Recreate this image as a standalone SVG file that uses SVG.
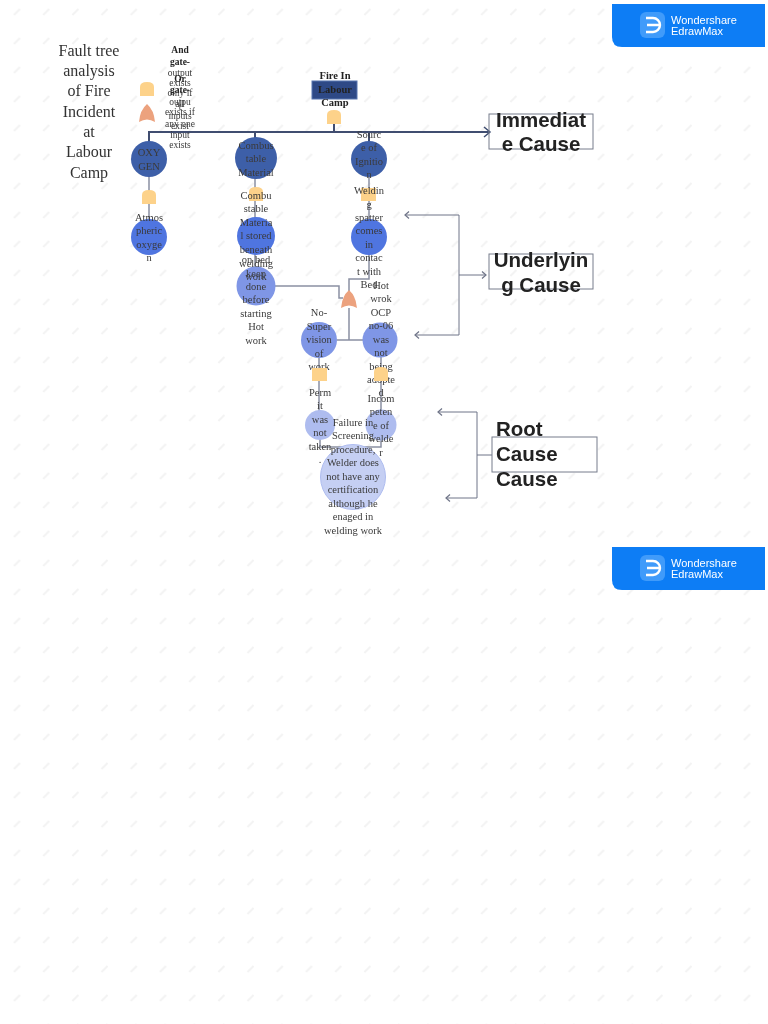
<svg xmlns="http://www.w3.org/2000/svg" width="768" height="1024" viewBox="0 0 768 1024">
<style>
.t{font-family:"Liberation Serif",serif;font-size:10.5px;fill:#3a3a3a;text-anchor:middle}
.s{font-size:9.5px}
.b{font-weight:bold;fill:#222}
.h{font-family:"Liberation Serif",serif;font-size:16px;fill:#333;text-anchor:middle}
.c{font-family:"Liberation Sans",sans-serif;font-size:20.5px;font-weight:bold;fill:#222;text-anchor:middle}
.r{font-family:"Liberation Sans",sans-serif;font-size:20.5px;font-weight:bold;fill:#222}
.l{fill:none;stroke:#8b90a3;stroke-width:1.5}
.m{fill:none;stroke:#3f4d70;stroke-width:2}
.a{fill:none;stroke:#6f7488;stroke-width:1}
.box{fill:none;stroke:#777d8c;stroke-width:1}
.and{fill:#fdd28a}.or{fill:#eca27e}
.n1{fill:#3e5fa8}.n2{fill:#4f74e0}.n3{fill:#7f96e6}.n4{fill:#aebcef}.n5{fill:#c5cff3;stroke:#aebcef}
.w{font-family:"Liberation Sans",sans-serif;font-size:11px;fill:#fff}
</style>
<defs>
<filter id="soft" x="0" y="0" width="100%" height="100%"><feGaussianBlur stdDeviation="0.4"/></filter>
<pattern id="wm" width="29.2" height="29" patternUnits="userSpaceOnUse">
<path d="M14 15l6-6" stroke="#f3f3f3" stroke-width="2" fill="none"/>
</pattern>
<g id="badge">
<path d="M612 0H765V43H622Q612 43 612 33Z" fill="#0d7df5"/>
<rect x="640" y="8" width="25" height="26" rx="6" fill="#3f9bfa"/>
<path d="M646 14h7a7 7 0 0 1 0 14h-7M647 21h12" fill="none" stroke="#fff" stroke-width="2.400"/>
<text class="w" x="671" y="20">Wondershare</text>
<text class="w" x="671" y="31">EdrawMax</text>
</g>
<marker id="f" markerUnits="userSpaceOnUse" markerWidth="8" markerHeight="10" refX="6" refY="5" orient="auto"><path d="M2 1.500L6 5L2 8.500" fill="none" stroke="#6f7488" stroke-width="1.200"/></marker>
<path id="ag" d="M-7 7V-2Q-7 -7 0 -7Q7 -7 7 -2V7Z"/>
<path id="og" d="M-8 9Q-7 -3 0 -9Q7 -3 8 9Q0 4 -8 9Z"/>
</defs>
<rect width="768" height="1024" fill="#fff"/>
<rect width="768" height="1024" fill="url(#wm)"/>
<g filter="url(#soft)">
<use href="#badge" y="4"/>
<use href="#badge" y="547"/>

<g id="connectors">
<path class="m" d="M149 156V132H489"/>
<path class="m" d="M334 132V118"/>
<path class="m" d="M255 132V140M369 132V142"/>
<path d="M484 127L490 132L484 137" fill="none" stroke="#3f4d70" stroke-width="1.500"/>
<path class="l" d="M149 176V237M255 178V270M369 176V279H349V292M275 286H339V298H343M349 308V340M337 340H364M319 357V412M381 357V410M320 438V447H353V453M381 438V447H353"/>
<path class="a" d="M459 215V335M477 412V498M477 455H492"/>
<path class="a" d="M459 215H405" marker-end="url(#f)"/>
<path class="a" d="M459 335H415" marker-end="url(#f)"/>
<path class="a" d="M459 275H486" marker-end="url(#f)"/>
<path class="a" d="M477 412H438" marker-end="url(#f)"/>
<path class="a" d="M477 498H446" marker-end="url(#f)"/>
</g>

<g id="title"><text class="h" x="89" y="56">Fault tree</text><text class="h" x="89" y="76">analysis</text><text class="h" x="89" y="96">of Fire</text><text class="h" x="89" y="117">Incident</text><text class="h" x="89" y="137">at</text><text class="h" x="89" y="157">Labour</text><text class="h" x="89" y="178">Camp</text></g>

<g id="legend-and"><use href="#ag" class="and" x="147" y="89"/>
<text class="t b s" x="180" y="53">And</text><text class="t b s" x="180" y="65">gate-</text>
<text class="t s" x="180" y="76">output</text><text class="t s" x="180" y="86">exists</text><text class="t s" x="180" y="96">only if</text><text class="t s" x="180" y="107">all</text><text class="t s" x="180" y="119">inputs</text><text class="t s" x="180" y="129">exist</text></g>
<g id="legend-or"><use href="#og" class="or" x="147" y="113"/>
<text class="t b s" x="180" y="82">Or</text><text class="t b s" x="180" y="93">gate-</text>
<text class="t s" x="180" y="105">outpu</text><text class="t s" x="180" y="110">t</text><text class="t s" x="180" y="115">exists if</text><text class="t s" x="180" y="127">any one</text><text class="t s" x="180" y="138">input</text><text class="t s" x="180" y="148">exists</text></g>

<g id="top"><rect x="312" y="81" width="45" height="18" fill="#2f4a86" stroke="#5874b0"/>
<text class="t b" x="335" y="79">Fire In</text><text class="t b" x="335" y="93">Labour</text><text class="t b" x="335" y="106">Camp</text></g>
<g id="gate-top"><use href="#ag" class="and" x="334" y="117"/></g>

<g id="n-oxygen"><circle class="n1" cx="149" cy="159" r="18"/><text class="t" x="149" y="156">OXY</text><text class="t" x="149" y="170">GEN</text></g>
<g id="gate-a"><use href="#ag" class="and" x="149" y="197"/></g>
<g id="n-atmos"><circle class="n2" cx="149" cy="237" r="18"/><text class="t" x="149" y="221">Atmos</text><text class="t" x="149" y="234">pheric</text><text class="t" x="149" y="248">oxyge</text><text class="t" x="149" y="261">n</text></g>

<g id="n-comb"><circle class="n1" cx="256" cy="158" r="21"/><text class="t" x="256" y="149">Combus</text><text class="t" x="256" y="162">table</text><text class="t" x="256" y="176">Material</text></g>
<g id="gate-b"><use href="#ag" class="and" x="256" y="194"/></g>
<g id="n-stored"><circle class="n2" cx="256" cy="236" r="19"/><text class="t" x="256" y="199">Combu</text><text class="t" x="256" y="212">stable</text><text class="t" x="256" y="226">Materia</text><text class="t" x="256" y="239">l stored</text><text class="t" x="256" y="253">beneath</text></g>
<g id="n-hot"><circle class="n3" cx="256" cy="286" r="19.500"/><text class="t" x="256" y="263">on bed</text><text class="t" x="256" y="267">welding</text><text class="t" x="256" y="277">keep</text><text class="t" x="256" y="280">work</text><text class="t" x="256" y="290">done</text><text class="t" x="256" y="303">before</text><text class="t" x="256" y="317">starting</text><text class="t" x="256" y="330">Hot</text><text class="t" x="256" y="344">work</text></g>

<g id="n-source"><circle class="n1" cx="369" cy="159" r="18"/><text class="t" x="369" y="138">Sourc</text><text class="t" x="369" y="151">e of</text><text class="t" x="369" y="165">Ignitio</text><text class="t" x="369" y="178">n</text></g>
<g id="gate-c"><rect class="and" x="361" y="188" width="15" height="13"/></g>
<g id="n-spatter"><circle class="n2" cx="369" cy="237" r="18"/><text class="t" x="369" y="194">Weldin</text><text class="t" x="369" y="208">g</text><text class="t" x="369" y="221">spatter</text><text class="t" x="369" y="234">comes</text><text class="t" x="369" y="248">in</text><text class="t" x="369" y="261">contac</text><text class="t" x="369" y="275">t with</text><text class="t" x="369" y="288">Bed</text></g>

<g id="gate-or"><use href="#og" class="or" x="349" y="299"/></g>
<g id="n-super"><circle class="n3" cx="319" cy="340" r="18"/><text class="t" x="319" y="316">No-</text><text class="t" x="319" y="330">Super</text><text class="t" x="319" y="343">vision</text><text class="t" x="319" y="357">of</text><text class="t" x="319" y="370">work</text></g>
<g id="n-ocp"><circle class="n3" cx="380" cy="340" r="17.500"/><text class="t" x="381" y="289">Hot</text><text class="t" x="381" y="302">wrok</text><text class="t" x="381" y="316">OCP</text><text class="t" x="381" y="329">no-06</text><text class="t" x="381" y="343">was</text><text class="t" x="381" y="356">not</text><text class="t" x="381" y="370">being</text><text class="t" x="381" y="383">adopte</text><text class="t" x="381" y="396">d</text></g>
<g id="gate-d"><rect class="and" x="312" y="368" width="15" height="13"/></g>
<g id="gate-e"><use href="#ag" class="and" x="381" y="374"/></g>
<g id="n-permit"><circle class="n4" cx="320" cy="425" r="15"/><text class="t" x="320" y="396">Perm</text><text class="t" x="320" y="409">it</text><text class="t" x="320" y="423">was</text><text class="t" x="320" y="436">not</text><text class="t" x="320" y="450">taken</text><text class="t" x="320" y="463">.</text></g>
<g id="n-incomp"><circle class="n4" cx="381" cy="425" r="15.500"/><text class="t" x="381" y="402">Incom</text><text class="t" x="381" y="415">peten</text><text class="t" x="381" y="429">e of</text><text class="t" x="381" y="442">welde</text><text class="t" x="381" y="456">r</text></g>
<g id="n-fail"><circle class="n5" cx="353" cy="477" r="32.500"/><text class="t" x="353" y="426">Failure in</text><text class="t" x="353" y="439">Screening</text><text class="t" x="353" y="453">procedure,</text><text class="t" x="353" y="466">Welder does</text><text class="t" x="353" y="480">not have any</text><text class="t" x="353" y="493">certification</text><text class="t" x="353" y="507">although he</text><text class="t" x="353" y="520">enaged in</text><text class="t" x="353" y="534">welding work</text></g>

<g id="cause-imm"><rect class="box" x="489" y="114" width="104" height="35"/><text class="c" x="541" y="127">Immediat</text><text class="c" x="541" y="151">e Cause</text></g>
<g id="cause-und"><rect class="box" x="489" y="254" width="104" height="35"/><text class="c" x="541" y="267">Underlyin</text><text class="c" x="541" y="292">g Cause</text></g>
<g id="cause-root"><rect class="box" x="492" y="437" width="105" height="35"/><text class="r" x="496" y="436">Root</text><text class="r" x="496" y="461">Cause</text><text class="r" x="496" y="486">Cause</text></g>
</g>
</svg>
